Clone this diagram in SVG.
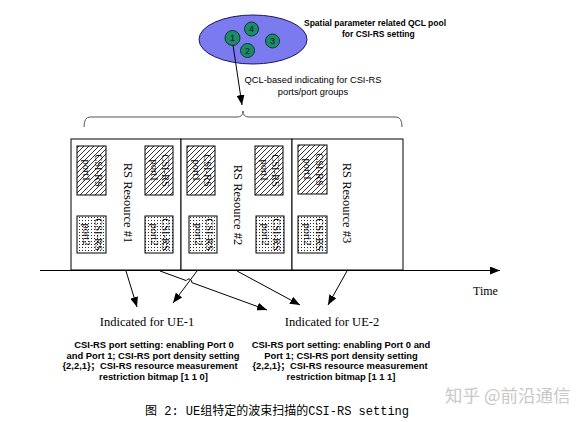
<svg xmlns="http://www.w3.org/2000/svg" width="588" height="422" viewBox="0 0 588 422">
<defs>
<pattern id="hatch" patternUnits="userSpaceOnUse" width="5" height="5">
<path d="M-1,1 L1,-1 M0,5 L5,0 M4,6 L6,4" stroke="#000" stroke-width="0.8"/>
</pattern>
<pattern id="dots" patternUnits="userSpaceOnUse" width="3" height="3">
<rect width="3" height="3" fill="#fff"/>
<circle cx="1.5" cy="1.5" r="0.55" fill="#000"/>
</pattern>
<marker id="ah" markerUnits="userSpaceOnUse" markerWidth="11" markerHeight="8" refX="10" refY="4" orient="auto">
<path d="M0,0 L10,4 L0,8 Z" fill="#000"/>
</marker>
</defs>
<style>
.sans{font-family:"Liberation Sans",Arial,"Noto Sans CJK SC",sans-serif;fill:#000}
.bold{font-weight:bold;font-size:8.5px}
.blk{font-weight:bold;font-size:9.4px}
.serif{font-family:"Liberation Serif","Times New Roman",serif;fill:#000}
.port{font-size:10.5px;text-anchor:middle}
.res{font-size:12.5px;text-anchor:middle}
.hrect{fill:url(#hatch);stroke:#000;stroke-width:1}
.drect{fill:url(#dots);stroke:#000;stroke-width:1}
.conn{fill:none;stroke:#000;stroke-width:1}
.num{font-family:"Liberation Sans",Arial,sans-serif;font-size:9px;text-anchor:middle;fill:#0a1a10}
.ctr{text-anchor:middle}
</style>
<rect width="588" height="422" fill="#fff"/>

<g id="qcl-pool">
<ellipse cx="253" cy="39.5" rx="54" ry="24.5" fill="#7b7bef" stroke="#1a1a60" stroke-width="1"/>
<circle cx="232.5" cy="38" r="7.5" fill="#1d8a6c" stroke="#0b3b2b" stroke-width="1"/>
<text class="num" x="232.5" y="41.2">1</text>
<circle cx="251.5" cy="29" r="7" fill="#1d8a6c" stroke="#0b3b2b" stroke-width="1"/>
<text class="num" x="251.5" y="32.2">4</text>
<circle cx="272.5" cy="41" r="7" fill="#1d8a6c" stroke="#0b3b2b" stroke-width="1"/>
<text class="num" x="272.5" y="44.2">3</text>
<circle cx="247.5" cy="50.5" r="7" fill="#1d8a6c" stroke="#0b3b2b" stroke-width="1"/>
<text class="num" x="247.5" y="53.7">2</text>
<text class="sans bold" x="304" y="25.5">Spatial parameter related QCL pool</text>
<text class="sans bold" x="342" y="37">for CSI-RS setting</text>
</g>

<g id="qcl-label">
<text class="sans ctr" font-size="9.3" x="313" y="83">QCL-based indicating for CSI-RS</text>
<text class="sans ctr" font-size="9.3" x="313" y="95">ports/port groups</text>
</g>

<g id="brace">
<path d="M84,127 Q84,117 90,117 L237,117 Q243,117 243,111 Q243,117 249,117 L396,117 Q402,117 402,127" fill="none" stroke="#555" stroke-width="1"/>
</g>

<g id="rs-resource-1">
<rect x="71" y="139" width="110" height="131" fill="#fff" stroke="#000" stroke-width="1"/>
<rect class="hrect" x="77" y="146" width="29" height="49"/>
<g transform="translate(91.5,170.5) rotate(90)"><text class="serif port" y="-3.4">CSI-RS</text><text class="serif port" y="8.3">port1</text></g>
<rect class="hrect" x="145" y="146" width="28" height="49"/>
<g transform="translate(159,170.5) rotate(90)"><text class="serif port" y="-3.4">CSI-RS</text><text class="serif port" y="8.3">port1</text></g>
<rect class="drect" x="77" y="216" width="29" height="37"/>
<g transform="translate(91.5,234.5) rotate(90)"><text class="serif port" y="-3.4">CSI-RS</text><text class="serif port" y="8.3">port2</text></g>
<rect class="drect" x="145" y="216" width="28" height="37"/>
<g transform="translate(159,234.5) rotate(90)"><text class="serif port" y="-3.4">CSI-RS</text><text class="serif port" y="8.3">port2</text></g>
<g transform="translate(128,203) rotate(90)"><text class="serif res" y="4">RS Resource #1</text></g>
</g>

<g id="rs-resource-2">
<rect x="181" y="139" width="111" height="131" fill="#fff" stroke="#000" stroke-width="1"/>
<rect class="hrect" x="187" y="146" width="28" height="49"/>
<g transform="translate(201,170.5) rotate(90)"><text class="serif port" y="-3.4">CSI-RS</text><text class="serif port" y="8.3">port1</text></g>
<rect class="hrect" x="255" y="146" width="28" height="49"/>
<g transform="translate(269,170.5) rotate(90)"><text class="serif port" y="-3.4">CSI-RS</text><text class="serif port" y="8.3">port1</text></g>
<rect class="drect" x="189" y="216" width="28" height="37"/>
<g transform="translate(203,234.5) rotate(90)"><text class="serif port" y="-3.4">CSI-RS</text><text class="serif port" y="8.3">port2</text></g>
<rect class="drect" x="256" y="216" width="28" height="37"/>
<g transform="translate(270,234.5) rotate(90)"><text class="serif port" y="-3.4">CSI-RS</text><text class="serif port" y="8.3">port2</text></g>
<g transform="translate(238,205) rotate(90)"><text class="serif res" y="4">RS Resource #2</text></g>
</g>

<g id="rs-resource-3">
<rect x="292" y="139" width="111" height="131" fill="#fff" stroke="#000" stroke-width="1"/>
<rect class="hrect" x="298" y="145" width="29" height="49"/>
<g transform="translate(312.5,169.5) rotate(90)"><text class="serif port" y="-3.4">CSI-RS</text><text class="serif port" y="8.3">port1</text></g>
<rect class="drect" x="298" y="216" width="29" height="37"/>
<g transform="translate(312.5,234.5) rotate(90)"><text class="serif port" y="-3.4">CSI-RS</text><text class="serif port" y="8.3">port2</text></g>
<g transform="translate(347,203) rotate(90)"><text class="serif res" y="4">RS Resource #3</text></g>
</g>

<g id="time-axis">
<line x1="40" y1="270.5" x2="500" y2="270.5" stroke="#000" stroke-width="1" marker-end="url(#ah)"/>
<text class="serif" font-size="12" x="473" y="295">Time</text>
</g>

<g id="ue1">
<text class="serif ctr" font-size="12.5" x="147" y="326">Indicated for UE-1</text>
<text class="sans blk ctr" x="154" y="348">CSI-RS port setting: enabling Port 0</text>
<text class="sans blk ctr" x="153" y="358.5">and Port 1; CSI-RS port density setting</text>
<text class="sans blk ctr" x="150" y="369">{2,2,1}；CSI-RS resource measurement</text>
<text class="sans blk ctr" x="153.5" y="379.5">restriction bitmap [1 1 0]</text>
</g>

<g id="ue2">
<text class="serif ctr" font-size="12.5" x="332" y="326">Indicated for UE-2</text>
<text class="sans blk ctr" x="341" y="348">CSI-RS port setting: enabling Port 0 and</text>
<text class="sans blk ctr" x="341" y="358.5">Port 1; CSI-RS port density setting</text>
<text class="sans blk ctr" x="340" y="369">{2,2,1}；CSI-RS resource measurement</text>
<text class="sans blk ctr" x="341" y="379.5">restriction bitmap [1 1 1]</text>
</g>

<g id="connectors">
<line class="conn" x1="233" y1="45" x2="242" y2="105" stroke="#111" marker-end="url(#ah)"/>
<line class="conn" x1="126" y1="271" x2="137" y2="307" marker-end="url(#ah)"/>
<line class="conn" x1="197" y1="271" x2="173" y2="303" marker-end="url(#ah)"/>
<path class="conn" d="M160,271 L186.2,280.6 A3,3 0 0 1 191.8,282.6 L267,310" marker-end="url(#ah)"/>
<line class="conn" x1="237" y1="271" x2="300" y2="305" marker-end="url(#ah)"/>
<line class="conn" x1="347" y1="271" x2="328" y2="305" marker-end="url(#ah)"/>
</g>

<text font-family="'Liberation Mono','Noto Sans CJK SC',monospace" font-size="12" x="145" y="415" fill="#000">图 2: UE组特定的波束扫描的CSI-RS setting</text>
<text font-family="'Noto Sans CJK SC',sans-serif" font-size="17.5" x="445" y="402" fill="#c8c8c8">知乎 @前沿通信</text>
</svg>
